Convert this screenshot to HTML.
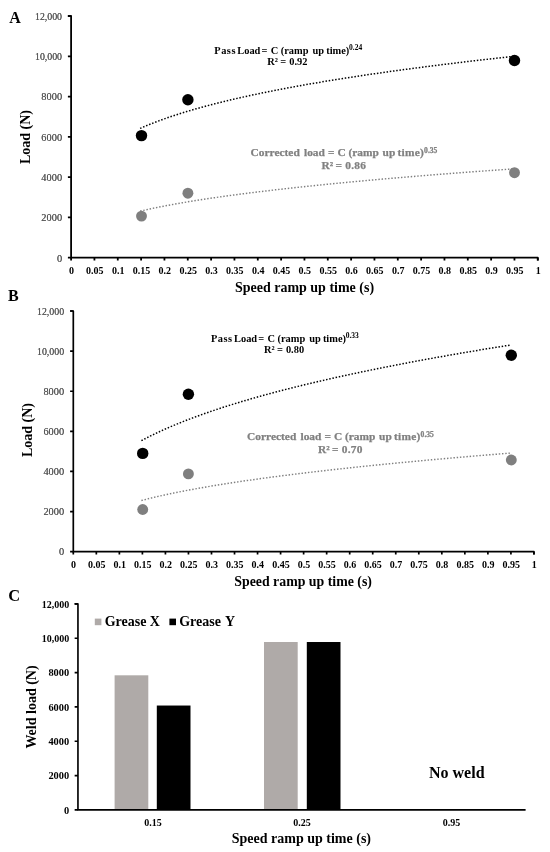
<!DOCTYPE html>
<html lang="en"><head><meta charset="utf-8"><title>Figure</title>
<style>
html,body{margin:0;padding:0;background:#fff}
svg{display:block}
text{font-family:"Liberation Serif",serif;font-weight:bold;fill:#000}
.yl text{font-weight:normal;fill:#595959}
.ylb text{font-size:10.4px}
.xl text{font-size:10px}
.t14{font-size:14px}
.pl{font-size:16px}
.g text,.g{fill:#808080;stroke:#808080;stroke-width:.25px}
</style></head><body>
<svg width="550" height="852" viewBox="0 0 550 852">
<defs><filter id="fb" x="-5%" y="-5%" width="110%" height="110%"><feOffset in="SourceGraphic" dx="0.4" dy="0" result="o"/><feMerge><feMergeNode in="SourceGraphic"/><feMergeNode in="o"/></feMerge></filter></defs>
<rect width="550" height="852" fill="#fff"/>
<g>
<path d="M67.9 16H71.1V257.7H537.8V260.6" fill="none" stroke="#000" stroke-width="1.8" stroke-linejoin="round"/>
<path d="M67.9 257.7H71.1M67.9 217.42H71.1M67.9 177.13H71.1M67.9 136.85H71.1M67.9 96.57H71.1M67.9 56.28H71.1M67.9 16H71.1M71.1 257.7V260.6M94.43 257.7V260.6M117.77 257.7V260.6M141.1 257.7V260.6M164.44 257.7V260.6M187.77 257.7V260.6M211.11 257.7V260.6M234.44 257.7V260.6M257.78 257.7V260.6M281.12 257.7V260.6M304.45 257.7V260.6M327.78 257.7V260.6M351.12 257.7V260.6M374.45 257.7V260.6M397.79 257.7V260.6M421.12 257.7V260.6M444.46 257.7V260.6M467.79 257.7V260.6M491.13 257.7V260.6M514.46 257.7V260.6M537.8 257.7V260.6" fill="none" stroke="#000" stroke-width="1.8"/>
<g class="yl" filter="url(#fb)" text-anchor="end" style="font-size:10.35px">
<text x="62.05" y="261.5">0</text>
<text x="62.05" y="221.22">2000</text>
<text x="62.05" y="180.93">4000</text>
<text x="62.05" y="140.65">6000</text>
<text x="62.05" y="100.37">8000</text>
<text x="62.05" y="60.08" style="font-size:9.85px">10,000</text>
<text x="62.05" y="19.8" style="font-size:9.85px">12,000</text>
</g>
<g class="xl" text-anchor="middle" style="font-size:10px">
<text x="71.5" y="273.5">0</text>
<text x="94.83" y="273.5">0.05</text>
<text x="118.17" y="273.5">0.1</text>
<text x="141.5" y="273.5">0.15</text>
<text x="164.84" y="273.5">0.2</text>
<text x="188.17" y="273.5">0.25</text>
<text x="211.51" y="273.5">0.3</text>
<text x="234.84" y="273.5">0.35</text>
<text x="258.18" y="273.5">0.4</text>
<text x="281.51" y="273.5">0.45</text>
<text x="304.85" y="273.5">0.5</text>
<text x="328.18" y="273.5">0.55</text>
<text x="351.52" y="273.5">0.6</text>
<text x="374.85" y="273.5">0.65</text>
<text x="398.19" y="273.5">0.7</text>
<text x="421.52" y="273.5">0.75</text>
<text x="444.86" y="273.5">0.8</text>
<text x="468.19" y="273.5">0.85</text>
<text x="491.53" y="273.5">0.9</text>
<text x="514.86" y="273.5">0.95</text>
<text x="538.2" y="273.5">1</text>
</g>
<path d="M140.1 128.42L144.77 126.4L149.44 124.48L154.11 122.64L158.77 120.87L163.44 119.18L168.11 117.55L172.77 115.97L177.44 114.45L182.11 112.98L186.77 111.56L191.44 110.17L196.11 108.83L200.78 107.53L205.44 106.26L210.11 105.02L214.78 103.81L219.44 102.64L224.11 101.49L228.78 100.36L233.44 99.26L238.11 98.19L242.78 97.14L247.45 96.11L252.11 95.1L256.78 94.1L261.45 93.13L266.11 92.18L270.78 91.24L275.45 90.32L280.11 89.41L284.78 88.52L289.45 87.65L294.12 86.79L298.78 85.94L303.45 85.1L308.12 84.28L312.78 83.47L317.45 82.67L322.12 81.89L326.78 81.11L331.45 80.35L336.12 79.59L340.79 78.85L345.45 78.11L350.12 77.38L354.79 76.67L359.45 75.96L364.12 75.26L368.79 74.57L373.45 73.89L378.12 73.21L382.79 72.55L387.46 71.89L392.12 71.23L396.79 70.59L401.46 69.95L406.12 69.32L410.79 68.69L415.46 68.08L420.12 67.46L424.79 66.86L429.46 66.26L434.13 65.67L438.79 65.08L443.46 64.5L448.13 63.92L452.79 63.35L457.46 62.78L462.13 62.22L466.79 61.66L471.46 61.11L476.13 60.57L480.8 60.02L485.46 59.49L490.13 58.96L494.8 58.43L499.46 57.9L504.13 57.39L508.8 56.87L513.46 56.36" fill="none" stroke="#000" stroke-width="1.5" stroke-dasharray="1.5 1.75"/>
<path d="M140.1 211.13L144.77 210.07L149.44 209.05L154.11 208.07L158.77 207.12L163.44 206.2L168.11 205.31L172.77 204.45L177.44 203.62L182.11 202.81L186.77 202.02L191.44 201.25L196.11 200.5L200.78 199.76L205.44 199.05L210.11 198.35L214.78 197.66L219.44 196.99L224.11 196.34L228.78 195.69L233.44 195.06L238.11 194.44L242.78 193.83L247.45 193.23L252.11 192.64L256.78 192.06L261.45 191.49L266.11 190.93L270.78 190.38L275.45 189.83L280.11 189.3L284.78 188.77L289.45 188.25L294.12 187.74L298.78 187.23L303.45 186.73L308.12 186.24L312.78 185.75L317.45 185.27L322.12 184.79L326.78 184.32L331.45 183.86L336.12 183.4L340.79 182.95L345.45 182.5L350.12 182.05L354.79 181.61L359.45 181.18L364.12 180.75L368.79 180.32L373.45 179.9L378.12 179.49L382.79 179.07L387.46 178.67L392.12 178.26L396.79 177.86L401.46 177.46L406.12 177.07L410.79 176.68L415.46 176.29L420.12 175.91L424.79 175.53L429.46 175.15L434.13 174.78L438.79 174.41L443.46 174.04L448.13 173.68L452.79 173.31L457.46 172.95L462.13 172.6L466.79 172.25L471.46 171.89L476.13 171.55L480.8 171.2L485.46 170.86L490.13 170.52L494.8 170.18L499.46 169.85L504.13 169.51L508.8 169.18L513.46 168.85" fill="none" stroke="#7f7f7f" stroke-width="1.45" stroke-dasharray="1.45 1.8"/>
<circle cx="141.5" cy="135.6" r="5.7" fill="#000"/>
<circle cx="187.9" cy="99.7" r="5.7" fill="#000"/>
<circle cx="514.5" cy="60.45" r="5.7" fill="#000"/>
<circle cx="141.5" cy="216.1" r="5.45" fill="#7f7f7f"/>
<circle cx="187.9" cy="193.2" r="5.45" fill="#7f7f7f"/>
<circle cx="514.5" cy="172.7" r="5.45" fill="#7f7f7f"/>
</g>
<text class="pl" x="9.3" y="22.8">A</text>
<text class="t14" text-anchor="middle" transform="translate(30 137) rotate(-90)">Load (N)</text>
<text class="t14" x="304.5" y="291.8" text-anchor="middle">Speed ramp up time (s)</text>
<text y="53.7" style="font-size:10.4px"><tspan x="214.3" letter-spacing="0.5">Pass </tspan><tspan x="237.3">Load </tspan><tspan x="261.6">= </tspan><tspan x="270.8">C </tspan><tspan x="280.8">(ramp </tspan><tspan x="312.6">up </tspan><tspan x="326.2">time)</tspan></text>
<text y="50.3" style="font-size:7.5px"><tspan x="349">0.24</tspan></text>
<text y="65" style="font-size:10.4px"><tspan x="267.3">R² </tspan><tspan x="280.3">= </tspan><tspan x="289.2">0.92</tspan></text>
<g class="g">
<text y="156" style="font-size:11.4px"><tspan x="250.6">Corrected </tspan><tspan x="304">load </tspan><tspan x="328">= </tspan><tspan x="337.5">C </tspan><tspan x="348.5">(ramp </tspan><tspan x="382.6">up </tspan><tspan x="397.6" letter-spacing="0.2">time)</tspan></text>
<text y="152.7" style="font-size:7.6px"><tspan x="424.1">0.35</tspan></text>
<text y="169.1" style="font-size:11.4px"><tspan x="321.6">R² </tspan><tspan x="335.6">= </tspan><tspan x="345.3" letter-spacing="0.25">0.86</tspan></text>
</g>
<g>
<path d="M70.1 311H73.3V551.7H533.95V554.6" fill="none" stroke="#000" stroke-width="1.7" stroke-linejoin="round"/>
<path d="M70.1 551.7H73.3M70.1 511.58H73.3M70.1 471.47H73.3M70.1 431.35H73.3M70.1 391.23H73.3M70.1 351.12H73.3M70.1 311H73.3M73.3 551.7V554.6M96.33 551.7V554.6M119.37 551.7V554.6M142.4 551.7V554.6M165.43 551.7V554.6M188.46 551.7V554.6M211.5 551.7V554.6M234.53 551.7V554.6M257.56 551.7V554.6M280.59 551.7V554.6M303.62 551.7V554.6M326.66 551.7V554.6M349.69 551.7V554.6M372.72 551.7V554.6M395.76 551.7V554.6M418.79 551.7V554.6M441.82 551.7V554.6M464.85 551.7V554.6M487.89 551.7V554.6M510.92 551.7V554.6M533.95 551.7V554.6" fill="none" stroke="#000" stroke-width="1.7"/>
<g class="yl" filter="url(#fb)" text-anchor="end" style="font-size:10.35px">
<text x="64.1" y="555.3">0</text>
<text x="64.1" y="515.18">2000</text>
<text x="64.1" y="475.07">4000</text>
<text x="64.1" y="434.95">6000</text>
<text x="64.1" y="394.83">8000</text>
<text x="64.1" y="354.72" style="font-size:9.85px">10,000</text>
<text x="64.1" y="314.6" style="font-size:9.85px">12,000</text>
</g>
<g class="xl" text-anchor="middle" style="font-size:10px">
<text x="73.6" y="568.2">0</text>
<text x="96.63" y="568.2">0.05</text>
<text x="119.67" y="568.2">0.1</text>
<text x="142.7" y="568.2">0.15</text>
<text x="165.73" y="568.2">0.2</text>
<text x="188.76" y="568.2">0.25</text>
<text x="211.8" y="568.2">0.3</text>
<text x="234.83" y="568.2">0.35</text>
<text x="257.86" y="568.2">0.4</text>
<text x="280.89" y="568.2">0.45</text>
<text x="303.93" y="568.2">0.5</text>
<text x="326.96" y="568.2">0.55</text>
<text x="349.99" y="568.2">0.6</text>
<text x="373.02" y="568.2">0.65</text>
<text x="396.06" y="568.2">0.7</text>
<text x="419.09" y="568.2">0.75</text>
<text x="442.12" y="568.2">0.8</text>
<text x="465.15" y="568.2">0.85</text>
<text x="488.19" y="568.2">0.9</text>
<text x="511.22" y="568.2">0.95</text>
<text x="534.25" y="568.2">1</text>
</g>
<path d="M141.4 440.69L146 438.25L150.61 435.91L155.22 433.66L159.82 431.5L164.43 429.4L169.04 427.38L173.64 425.42L178.25 423.52L182.86 421.67L187.46 419.87L192.07 418.12L196.68 416.41L201.28 414.74L205.89 413.12L210.5 411.53L215.1 409.97L219.71 408.45L224.31 406.96L228.92 405.5L233.53 404.06L238.13 402.66L242.74 401.28L247.35 399.92L251.95 398.59L256.56 397.28L261.17 395.99L265.77 394.72L270.38 393.47L274.99 392.25L279.59 391.04L284.2 389.84L288.81 388.67L293.41 387.51L298.02 386.36L302.62 385.24L307.23 384.12L311.84 383.03L316.44 381.94L321.05 380.87L325.66 379.81L330.26 378.77L334.87 377.73L339.48 376.71L344.08 375.7L348.69 374.7L353.3 373.72L357.9 372.74L362.51 371.77L367.12 370.82L371.72 369.87L376.33 368.94L380.94 368.01L385.54 367.09L390.15 366.18L394.75 365.28L399.36 364.39L403.97 363.51L408.57 362.63L413.18 361.76L417.79 360.9L422.39 360.05L427 359.21L431.61 358.37L436.21 357.54L440.82 356.71L445.43 355.9L450.03 355.09L454.64 354.28L459.25 353.49L463.85 352.69L468.46 351.91L473.07 351.13L477.67 350.36L482.28 349.59L486.88 348.83L491.49 348.07L496.1 347.32L500.7 346.58L505.31 345.84L509.92 345.11" fill="none" stroke="#000" stroke-width="1.5" stroke-dasharray="1.5 1.75"/>
<path d="M141.4 500.51L146 499.32L150.61 498.18L155.22 497.08L159.82 496.03L164.43 495L169.04 494.01L173.64 493.05L178.25 492.12L182.86 491.21L187.46 490.33L192.07 489.47L196.68 488.63L201.28 487.81L205.89 487.01L210.5 486.22L215.1 485.46L219.71 484.71L224.31 483.97L228.92 483.25L233.53 482.54L238.13 481.85L242.74 481.16L247.35 480.49L251.95 479.83L256.56 479.18L261.17 478.55L265.77 477.92L270.38 477.3L274.99 476.69L279.59 476.09L284.2 475.5L288.81 474.91L293.41 474.34L298.02 473.77L302.62 473.21L307.23 472.65L311.84 472.11L316.44 471.57L321.05 471.03L325.66 470.51L330.26 469.98L334.87 469.47L339.48 468.96L344.08 468.46L348.69 467.96L353.3 467.47L357.9 466.98L362.51 466.5L367.12 466.02L371.72 465.54L376.33 465.08L380.94 464.61L385.54 464.15L390.15 463.7L394.75 463.25L399.36 462.8L403.97 462.36L408.57 461.92L413.18 461.49L417.79 461.05L422.39 460.63L427 460.2L431.61 459.78L436.21 459.37L440.82 458.95L445.43 458.54L450.03 458.14L454.64 457.73L459.25 457.33L463.85 456.94L468.46 456.54L473.07 456.15L477.67 455.76L482.28 455.38L486.88 454.99L491.49 454.61L496.1 454.24L500.7 453.86L505.31 453.49L509.92 453.12" fill="none" stroke="#7f7f7f" stroke-width="1.45" stroke-dasharray="1.45 1.8"/>
<circle cx="142.7" cy="453.4" r="5.7" fill="#000"/>
<circle cx="188.4" cy="394.2" r="5.7" fill="#000"/>
<circle cx="511.3" cy="355.2" r="5.7" fill="#000"/>
<circle cx="142.7" cy="509.5" r="5.45" fill="#7f7f7f"/>
<circle cx="188.4" cy="473.9" r="5.45" fill="#7f7f7f"/>
<circle cx="511.3" cy="460" r="5.45" fill="#7f7f7f"/>
</g>
<text class="pl" x="8.0" y="301.3">B</text>
<text class="t14" text-anchor="middle" transform="translate(32 430) rotate(-90)">Load (N)</text>
<text class="t14" style="font-size:13.85px" x="303.1" y="586.2" text-anchor="middle">Speed ramp up time (s)</text>
<text y="341.6" style="font-size:10.4px"><tspan x="211" letter-spacing="0.5">Pass </tspan><tspan x="234">Load </tspan><tspan x="258.3">= </tspan><tspan x="267.5">C </tspan><tspan x="277.5">(ramp </tspan><tspan x="309.3">up </tspan><tspan x="322.9">time)</tspan></text>
<text y="338.2" style="font-size:7.5px"><tspan x="345.7">0.33</tspan></text>
<text y="352.9" style="font-size:10.4px"><tspan x="264">R² </tspan><tspan x="277">= </tspan><tspan x="285.9">0.80</tspan></text>
<g class="g">
<text y="440.2" style="font-size:11.4px"><tspan x="247.1">Corrected </tspan><tspan x="300.5">load </tspan><tspan x="324.5">= </tspan><tspan x="334">C </tspan><tspan x="345">(ramp </tspan><tspan x="379.1">up </tspan><tspan x="394.1" letter-spacing="0.2">time)</tspan></text>
<text y="436.9" style="font-size:7.6px"><tspan x="420.6">0.35</tspan></text>
<text y="453.3" style="font-size:11.4px"><tspan x="318.1">R² </tspan><tspan x="332.1">= </tspan><tspan x="341.8" letter-spacing="0.25">0.70</tspan></text>
</g>
<g>
<rect x="114.6" y="675.31" width="33.7" height="134.59" fill="#afaaa8"/>
<rect x="156.8" y="705.53" width="33.7" height="104.37" fill="#000"/>
<rect x="264" y="642.01" width="33.7" height="167.89" fill="#afaaa8"/>
<rect x="306.8" y="642.01" width="33.7" height="167.89" fill="#000"/>
<path d="M74.65 603.9H77.95V809.9H525.6" fill="none" stroke="#000" stroke-width="1.65" stroke-linejoin="round"/>
<path d="M74.65 809.9H77.95M74.65 775.57H77.95M74.65 741.23H77.95M74.65 706.9H77.95M74.65 672.57H77.95M74.65 638.23H77.95M74.65 603.9H77.95" fill="none" stroke="#000" stroke-width="1.65"/>
<g class="ylb" text-anchor="end">
<text x="69.2" y="813.6">0</text>
<text x="69.2" y="779.27">2000</text>
<text x="69.2" y="744.93">4000</text>
<text x="69.2" y="710.6">6000</text>
<text x="69.2" y="676.27">8000</text>
<text x="69.2" y="641.93" style="font-size:10px">10,000</text>
<text x="69.2" y="607.6" style="font-size:10px">12,000</text>
</g>
<g class="xl" text-anchor="middle"><text x="153" y="825.5">0.15</text><text x="302" y="825.5">0.25</text><text x="451.5" y="825.5">0.95</text></g>
<rect x="94.8" y="618.6" width="6.6" height="6.6" fill="#afaaa8"/><text y="625.5" style="font-size:14px"><tspan x="104.7">Grease </tspan><tspan x="149.8">X</tspan></text>
<rect x="169.4" y="618.6" width="6.6" height="6.6" fill="#000"/><text y="625.5" style="font-size:14px"><tspan x="179.2">Grease </tspan><tspan x="225">Y</tspan></text>
<text x="429" y="778.4" style="font-size:16px">No weld</text>
</g>
<text class="pl" x="8.3" y="600.75" style="font-size:16.4px">C</text>
<text class="t14" text-anchor="middle" transform="translate(36.4 707) rotate(-90)">Weld load (N)</text>
<text class="t14" x="301.4" y="842.5" text-anchor="middle">Speed ramp up time (s)</text>
</svg></body></html>
